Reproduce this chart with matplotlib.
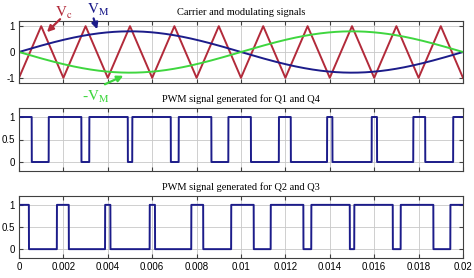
import numpy as np
import matplotlib
matplotlib.use("Agg")
import matplotlib.pyplot as plt

# carrier triangle vertices (s, value)
carrier_t = [0.000, 0.001, 0.002, 0.003, 0.004, 0.005, 0.006, 0.007, 0.008, 0.009, 0.010,
             0.011, 0.012, 0.013, 0.014, 0.015, 0.016, 0.017, 0.018, 0.019, 0.020]
carrier_v = [-1, 1, -1, 1, -1, 1, -1, 1, -1, 1, -1,
             1, -1, 1, -1, 1, -1, 1, -1, 1, -1]

# modulating sine: amplitude and frequency
mod_amp = 0.8
mod_freq = 50.0

x_ticks = [0, 0.002, 0.004, 0.006, 0.008, 0.01, 0.012, 0.014, 0.016, 0.018, 0.02]
x_ticklabels = ["0", "0.002", "0.004", "0.006", "0.008", "0.01",
                "0.012", "0.014", "0.016", "0.018", "0.02"]
titles = ["Carrier and modulating signals",
          "PWM signal generated for Q1 and Q4",
          "PWM signal generated for Q2 and Q3"]

RED = "#b22a3a"
NAVY = "#1c1c8a"
GREEN = "#3fd63f"

plt.rcParams["mathtext.fontset"] = "stix"

t = np.linspace(0, 0.02, 20001)
vc = np.interp(t, carrier_t, carrier_v)
vm = mod_amp * np.sin(2 * np.pi * mod_freq * t)
q14 = (vm > vc).astype(float)
q23 = (-vm > vc).astype(float)

fig = plt.figure(figsize=(4.74, 2.78), dpi=100)
W, H = 474.0, 278.0
boxes = [(21, 83), (108, 171), (196, 258)]
axes = []
for top, bot in boxes:
    ax = fig.add_axes([19 / W, 1 - bot / H, 444 / W, (bot - top) / H])
    axes.append(ax)

ax1, ax2, ax3 = axes
ax1.plot(carrier_t, carrier_v, color=RED, lw=1.4)
ax1.plot(t, vm, color=NAVY, lw=1.4)
ax1.plot(t, -vm, color=GREEN, lw=1.4)
ax1.set_ylim(-1.2, 1.2)
ax1.set_yticks([-1, 0, 1])
ax1.set_yticklabels(["-1", "0", "1"])

ax2.plot(t, q14, color=NAVY, lw=1.4)
ax3.plot(t, q23, color=NAVY, lw=1.4)
for ax in (ax2, ax3):
    ax.set_ylim(-0.2, 1.2)
    ax.set_yticks([0, 0.5, 1])
    ax.set_yticklabels(["0", "0.5", "1"])

for i, ax in enumerate(axes):
    ax.set_xlim(0, 0.02)
    ax.set_xticks(x_ticks)
    if i == 2:
        ax.set_xticklabels(x_ticklabels)
    else:
        ax.set_xticklabels([])
    ax.grid(True, color="#c8c8c8", lw=0.6)
    ax.set_axisbelow(True)
    ax.tick_params(direction="in", top=True, right=True, length=3,
                   labelsize=7, pad=3, color="#404040")
    for lab in ax.get_xticklabels() + ax.get_yticklabels():
        lab.set_fontfamily("Liberation Sans")
    for s in ax.spines.values():
        s.set_color("#404040")
        s.set_linewidth(0.8)
    ax.set_title(titles[i], fontsize=7.5, family="Liberation Serif", pad=4)

# labels and arrows on the top panel
arrow = dict(arrowstyle="-|>", lw=1.6, mutation_scale=9, shrinkA=0, shrinkB=0)
ax1.text(0.00160, 1.50, r"$\mathrm{V_c}$", color=RED, fontsize=11,
         ha="left", va="center", clip_on=False)
ax1.annotate("", xy=(0.00126, 0.77), xytext=(0.00185, 1.27),
             annotation_clip=False, arrowprops=dict(arrow, color=RED))
ax1.text(0.00308, 1.62, r"$\mathrm{V_M}$", color=NAVY, fontsize=11,
         ha="left", va="center", clip_on=False)
ax1.annotate("", xy=(0.00352, 0.88), xytext=(0.00336, 1.30),
             annotation_clip=False, arrowprops=dict(arrow, color=NAVY))
ax1.text(0.00282, -1.73, r"-$\mathrm{V_M}$", color=GREEN, fontsize=11,
         ha="left", va="center", family="Liberation Serif", clip_on=False)
ax1.annotate("", xy=(0.00470, -0.92), xytext=(0.00387, -1.25),
             annotation_clip=False, arrowprops=dict(arrow, color=GREEN))

fig.savefig("out.png", dpi=100)
